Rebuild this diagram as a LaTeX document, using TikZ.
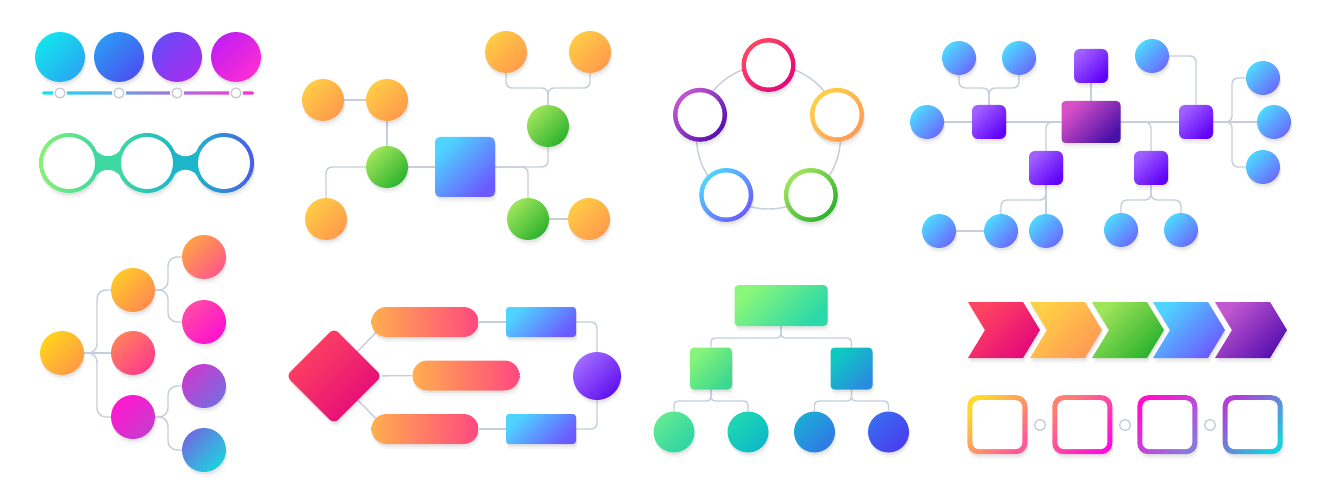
\documentclass[tikz,border=0pt]{standalone}
\usetikzlibrary{shapes.geometric,shadows,backgrounds,calc}
\definecolor{tlA}{HTML}{12E4EE}\definecolor{tlB}{HTML}{2AA8F2}
\definecolor{tlC}{HTML}{2C98F4}\definecolor{tlD}{HTML}{4A52F2}
\definecolor{tlE}{HTML}{6C48F6}\definecolor{tlF}{HTML}{A52EF0}
\definecolor{tlG}{HTML}{C21EF2}\definecolor{tlH}{HTML}{FF2CD4}
\definecolor{barmid}{HTML}{5A52F4}
\definecolor{ringA}{HTML}{86F272}\definecolor{ringB}{HTML}{3ED8A2}
\definecolor{ringC}{HTML}{1CB6C8}\definecolor{ringD}{HTML}{4A5AF0}
\definecolor{orgA}{HTML}{FFCB45}\definecolor{orgB}{HTML}{FF9B4C}
\definecolor{grnA}{HTML}{9FE55A}\definecolor{grnB}{HTML}{2CB22E}
\definecolor{bluA}{HTML}{4ED4FF}\definecolor{bluB}{HTML}{6B5BFF}
\definecolor{redA}{HTML}{FF4560}\definecolor{redB}{HTML}{E4087A}
\definecolor{yelA}{HTML}{FFD045}\definecolor{yelB}{HTML}{FF9A55}
\definecolor{purA}{HTML}{C258D0}\definecolor{purB}{HTML}{5810B0}
\definecolor{cyA}{HTML}{4FD8FF}\definecolor{cyB}{HTML}{6A6AFF}
\definecolor{viA}{HTML}{A060FF}\definecolor{viB}{HTML}{6000F8}
\definecolor{magA}{HTML}{D850C8}\definecolor{magB}{HTML}{4A10A8}
\definecolor{tzA}{HTML}{FFD21E}\definecolor{tzB}{HTML}{FF9A42}
\definecolor{toA}{HTML}{FFC82A}\definecolor{toB}{HTML}{FF8A50}
\definecolor{ttA}{HTML}{FF7E5E}\definecolor{ttB}{HTML}{FF3A8C}
\definecolor{thA}{HTML}{FF18D0}\definecolor{thB}{HTML}{C83ACD}
\definecolor{lfA}{HTML}{FFA048}\definecolor{lfB}{HTML}{FF5A88}
\definecolor{lgA}{HTML}{FF4AA8}\definecolor{lgB}{HTML}{FF10D0}
\definecolor{lhA}{HTML}{C83CCF}\definecolor{lhB}{HTML}{7A6AE0}
\definecolor{liA}{HTML}{6A70E0}\definecolor{liB}{HTML}{1ED0E0}
\definecolor{pillA}{HTML}{FFAE4E}\definecolor{pillB}{HTML}{FF4880}
\definecolor{vioA}{HTML}{A06AFF}\definecolor{vioB}{HTML}{6010F0}
\definecolor{ozA}{HTML}{8AF77A}\definecolor{ozB}{HTML}{2AD8AA}
\definecolor{ooA}{HTML}{86F47A}\definecolor{ooB}{HTML}{3CD890}
\definecolor{otA}{HTML}{0CCAC0}\definecolor{otB}{HTML}{2A8CE0}
\definecolor{kaA}{HTML}{62EA92}\definecolor{kaB}{HTML}{2ED4A6}
\definecolor{kbA}{HTML}{1ED8B0}\definecolor{kbB}{HTML}{0DB8C8}
\definecolor{kcA}{HTML}{1EAAD8}\definecolor{kcB}{HTML}{3078E4}
\definecolor{kdA}{HTML}{3A6CF0}\definecolor{kdB}{HTML}{4A3CF0}
\definecolor{sqaA}{HTML}{FFD82A}\definecolor{sqaB}{HTML}{FF5A98}
\definecolor{sqbA}{HTML}{FF8070}\definecolor{sqbB}{HTML}{FF10D8}
\definecolor{sqcA}{HTML}{FF10D0}\definecolor{sqcB}{HTML}{8A78DE}
\definecolor{sqdA}{HTML}{B040D8}\definecolor{sqdB}{HTML}{18D0E0}
\definecolor{linec}{HTML}{C6CEDC}
\definecolor{dotc}{HTML}{C5CBD6}
\tikzset{
  conn/.style={draw=linec, line width=1.4pt, rounded corners=6pt},
  g/.style 2 args={top color=#1, bottom color=#2, shading angle=45},
  sh/.style={drop shadow={opacity=0.04, fill=black, shadow xshift=1.5pt, shadow yshift=-5pt},
             drop shadow={opacity=0.06, fill=black, shadow xshift=0.8pt, shadow yshift=-2.5pt}},
  ball/.style={circle, inner sep=0pt, minimum size=#1, sh},
  boxnode/.style 2 args={rectangle, inner sep=0pt, minimum width=#1, minimum height=#2, rounded corners=4pt, sh},
  holenode/.style={circle, inner sep=0pt, minimum size=#1, fill=white},
  ticknode/.style={circle, inner sep=0pt, minimum size=10pt, draw=dotc, line width=1.3pt, fill=white, preaction={draw=white, line width=4pt}},
}
\begin{document}
\begin{tikzpicture}[x=1pt,y=-1pt]
\useasboundingbox (0,0) rectangle (1334,500);
\begin{pgfonlayer}{background}
\fill[white] (0,0) rectangle (1334,500);
\end{pgfonlayer}

% ---------- 1: circles with timeline bar ----------
\shade[left color=tlA, middle color=barmid, right color=tlH, rounded corners=1.5pt] (42,91.4) rectangle (254,94.6);
\node[ball=50pt, g={tlA}{tlB}] (a1) at (60,57) {};
\node[ball=50pt, g={tlC}{tlD}] (a2) at (119,57) {};
\node[ball=50pt, g={tlE}{tlF}] (a3) at (177,57) {};
\node[ball=50pt, g={tlG}{tlH}] (a4) at (236,57) {};
\node[ticknode] (t1) at (60,93) {};
\node[ticknode] (t2) at (119,93) {};
\node[ticknode] (t3) at (177,93) {};
\node[ticknode] (t4) at (236,93) {};

% ---------- 1b: chained rings ----------
\shade[sh, left color=ringA, right color=ringB] (69,163) circle (30);
\shade[sh, left color=ringB, right color=ringC] (147,163) circle (30);
\shade[sh, left color=ringC, right color=ringD] (224,163) circle (30);
\fill[ringB] (93,148) .. controls (103,159) and (113,159) .. (123,148) -- (123,178) .. controls (113,167) and (103,167) .. (93,178) -- cycle;
\fill[ringC] (171,148.5) .. controls (181,159) and (190,159) .. (200,148.5) -- (200,177.5) .. controls (190,167) and (181,167) .. (171,177.5) -- cycle;
\fill[white] (69,163) circle (26);
\fill[white] (147,163) circle (26);
\fill[white] (224,163) circle (26);

% ---------- 2: mind map ----------
\node[ball=42pt, g={orgA}{orgB}] (m1) at (323,100) {};
\node[ball=42pt, g={orgA}{orgB}] (m2) at (387,100) {};
\node[ball=42pt, g={grnA}{grnB}] (m3) at (387,167) {};
\node[boxnode={60pt}{60pt}, g={bluA}{bluB}, rounded corners=5pt] (m4) at (465,167) {};
\node[ball=42pt, g={orgA}{orgB}] (m5) at (326,219) {};
\node[ball=42pt, g={orgA}{orgB}] (m6) at (506,52) {};
\node[ball=42pt, g={orgA}{orgB}] (m7) at (590,52) {};
\node[ball=42pt, g={grnA}{grnB}] (m8) at (548,126) {};
\node[ball=42pt, g={grnA}{grnB}] (m9) at (528,219) {};
\node[ball=42pt, g={orgA}{orgB}] (m10) at (589,219) {};
\begin{pgfonlayer}{background}
\draw[conn] (m1) -- (m2);
\draw[conn] (m2) -- (m3);
\draw[conn] (m3) -- (m4);
\draw[conn] (m3.west) -| (m5.north);
\draw[conn] (m6.south) |- (548,88) -- (m8.north);
\draw[conn] (m7.south) |- (548,88) -- (m8.north);
\draw[conn] (m4.east) -| (m8.south);
\draw[conn] (m4.east) -| (m9.north);
\draw[conn] (m9) -- (m10);
\end{pgfonlayer}

% ---------- 3: pentagon of rings ----------
\begin{pgfonlayer}{background}
\draw[conn] (768.5,137) circle (72);
\end{pgfonlayer}
\node[ball=54pt, g={redA}{redB}] (p1) at (768.5,65) {};
\node[holenode=45pt] (p1h) at (p1) {};
\node[ball=54pt, g={yelA}{yelB}] (p2) at (837,114.8) {};
\node[holenode=45pt] (p2h) at (p2) {};
\node[ball=54pt, g={grnA}{grnB}] (p3) at (810.8,195) {};
\node[holenode=45pt] (p3h) at (p3) {};
\node[ball=54pt, g={bluA}{bluB}] (p4) at (726.2,195) {};
\node[holenode=45pt] (p4h) at (p4) {};
\node[ball=54pt, g={purA}{purB}] (p5) at (700,114.8) {};
\node[holenode=45pt] (p5h) at (p5) {};

% ---------- 4: top-right mind map ----------
\node[ball=34pt, g={cyA}{cyB}] (n1) at (959,58) {};
\node[ball=34pt, g={cyA}{cyB}] (n2) at (1019,58) {};
\node[ball=34pt, g={cyA}{cyB}] (n3) at (927,122) {};
\node[boxnode={34pt}{34pt}, g={viA}{viB}, rounded corners=6pt] (s1) at (989,122) {};
\node[boxnode={34pt}{34pt}, g={viA}{viB}, rounded corners=6pt] (s2) at (1091,66) {};
\node[boxnode={59pt}{42pt}, g={magA}{magB}] (s0) at (1091,122) {};
\node[boxnode={34pt}{34pt}, g={viA}{viB}, rounded corners=6pt] (s3) at (1196,122) {};
\node[ball=34pt, g={cyA}{cyB}] (n4) at (1152,56) {};
\node[boxnode={34pt}{34pt}, g={viA}{viB}, rounded corners=6pt] (s4) at (1046,168) {};
\node[boxnode={34pt}{34pt}, g={viA}{viB}, rounded corners=6pt] (s5) at (1151,168) {};
\node[ball=34pt, g={cyA}{cyB}] (n5) at (1263,78) {};
\node[ball=34pt, g={cyA}{cyB}] (n6) at (1274,122) {};
\node[ball=34pt, g={cyA}{cyB}] (n7) at (1263,167) {};
\node[ball=34pt, g={cyA}{cyB}] (n8) at (939,231) {};
\node[ball=34pt, g={cyA}{cyB}] (n9) at (1001,231) {};
\node[ball=34pt, g={cyA}{cyB}] (n10) at (1046,231) {};
\node[ball=34pt, g={cyA}{cyB}] (n11) at (1121,230) {};
\node[ball=34pt, g={cyA}{cyB}] (n12) at (1181,230) {};
\begin{pgfonlayer}{background}
\draw[conn] (n1.south) |- (989,88) -- (s1.north);
\draw[conn] (n2.south) |- (989,88) -- (s1.north);
\draw[conn] (n3) -- (s1);
\draw[conn] (s1) -- (s0);
\draw[conn] (s2) -- (s0);
\draw[conn] (s0) -- (s3);
\draw[conn] (n4.east) -| (s3.north);
\draw[conn] (s0.west) -| (s4.north);
\draw[conn] (s0.east) -| (s5.north);
\draw[conn] (s3) -- (n6);
\draw[conn] (n5.west) -| (1232,122) -- (s3.east);
\draw[conn] (n7.west) -| (1232,122) -- (s3.east);
\draw[conn] (n8) -- (n9);
\draw[conn] (s4) -- (n10);
\draw[conn] (n9.north) |- (1046,200) -- (s4.south);
\draw[conn] (n11.north) |- (1151,200) -- (s5.south);
\draw[conn] (n12.north) |- (1151,200) -- (s5.south);
\end{pgfonlayer}

% ---------- 5: tree ----------
\node[ball=44pt, g={tzA}{tzB}] (r0) at (62,353) {};
\node[ball=44pt, g={toA}{toB}] (r1) at (133,290) {};
\node[ball=44pt, g={ttA}{ttB}] (r2) at (133,353) {};
\node[ball=44pt, g={thA}{thB}] (r3) at (133,417) {};
\node[ball=44pt, g={lfA}{lfB}] (r4) at (204,257) {};
\node[ball=44pt, g={lgA}{lgB}] (r5) at (204,322) {};
\node[ball=44pt, g={lhA}{lhB}] (r6) at (204,386) {};
\node[ball=44pt, g={liA}{liB}] (r7) at (204,450) {};
\begin{pgfonlayer}{background}
\draw[conn, rounded corners=9pt] (r0.east) -- (97,353) |- (r1.west);
\draw[conn] (r0) -- (r2);
\draw[conn, rounded corners=9pt] (r0.east) -- (97,353) |- (r3.west);
\draw[conn, rounded corners=9pt] (r1.east) -- (168,290) |- (r4.west);
\draw[conn, rounded corners=9pt] (r1.east) -- (168,290) |- (r5.west);
\draw[conn, rounded corners=9pt] (r3.east) -- (168,417) |- (r6.west);
\draw[conn, rounded corners=9pt] (r3.east) -- (168,417) |- (r7.west);
\end{pgfonlayer}

% ---------- 6: diamond flow ----------
\node[diamond, inner sep=0pt, minimum width=96pt, minimum height=96pt, rounded corners=6pt, g={redA}{redB}, sh] (dm) at (334,376) {};
\node[boxnode={107pt}{30pt}, rounded corners=15pt, left color=pillA, right color=pillB] (f1) at (425,322) {};
\node[boxnode={107pt}{30pt}, rounded corners=15pt, left color=pillA, right color=pillB] (f2) at (466,375.5) {};
\node[boxnode={107pt}{30pt}, rounded corners=15pt, left color=pillA, right color=pillB] (f3) at (425,429) {};
\node[boxnode={70pt}{30pt}, rounded corners=3pt, g={bluA}{bluB}] (b1) at (541,322) {};
\node[boxnode={70pt}{30pt}, rounded corners=3pt, g={bluA}{bluB}] (b2) at (541,429) {};
\node[ball=48pt, g={vioA}{vioB}] (vc) at (597,376) {};
\begin{pgfonlayer}{background}
\draw[conn] (dm.center) -- ($(f1.west)+(4.5,10.6)$);
\draw[conn] (dm) -- (f2);
\draw[conn] (dm.center) -- ($(f3.west)+(4.5,-10.6)$);
\draw[conn] (f1) -- (b1);
\draw[conn] (f3) -- (b2);
\draw[conn] (b1.east) -| (vc.north);
\draw[conn] (b2.east) -| (vc.south);
\end{pgfonlayer}

% ---------- 7: org chart ----------
\node[boxnode={93pt}{41pt}, g={ozA}{ozB}] (o0) at (781,305.5) {};
\node[boxnode={42pt}{42pt}, g={ooA}{ooB}] (o1) at (711,368.5) {};
\node[boxnode={42pt}{42pt}, g={otA}{otB}] (o2) at (851.5,368.5) {};
\node[ball=41pt, g={kaA}{kaB}] (k1) at (674,432) {};
\node[ball=41pt, g={kbA}{kbB}] (k2) at (748,432) {};
\node[ball=41pt, g={kcA}{kcB}] (k3) at (814.5,432) {};
\node[ball=41pt, g={kdA}{kdB}] (k4) at (888.5,432) {};
\begin{pgfonlayer}{background}
\draw[conn, rounded corners=4pt] (o0.south) -- (781,338) -| (o1.north);
\draw[conn, rounded corners=4pt] (o0.south) -- (781,338) -| (o2.north);
\draw[conn, rounded corners=4pt] (o1.south) -- (711,401) -| (k1.north);
\draw[conn, rounded corners=4pt] (o1.south) -- (711,401) -| (k2.north);
\draw[conn, rounded corners=4pt] (o2.south) -- (851.5,401) -| (k3.north);
\draw[conn, rounded corners=4pt] (o2.south) -- (851.5,401) -| (k4.north);
\end{pgfonlayer}

% ---------- 8: chevrons ----------
\foreach \L/\ca/\cb in {968/redA/redB, 1030/yelA/yelB, 1092/grnA/grnB, 1153/bluA/bluB, 1215/purA/purB}
  \shade[sh, top color=\ca, bottom color=\cb, shading angle=45] (\L,302) -- ++(55,0) -- ++(17,28) -- ++(-17,28) -- ++(-55,0) -- ++(17,-28) -- cycle;

% ---------- 8b: square rings ----------
\node[boxnode={60pt}{59pt}, g={sqaA}{sqaB}, rounded corners=11pt] (q1) at (997.3,424.7) {};
\node[rectangle, inner sep=0pt, fill=white, minimum width=50pt, minimum height=49pt, rounded corners=7pt] (q1h) at (q1) {};
\node[boxnode={60pt}{59pt}, g={sqbA}{sqbB}, rounded corners=11pt] (q2) at (1082.3,424.7) {};
\node[rectangle, inner sep=0pt, fill=white, minimum width=50pt, minimum height=49pt, rounded corners=7pt] (q2h) at (q2) {};
\node[boxnode={60pt}{59pt}, g={sqcA}{sqcB}, rounded corners=11pt] (q3) at (1167.3,424.7) {};
\node[rectangle, inner sep=0pt, fill=white, minimum width=50pt, minimum height=49pt, rounded corners=7pt] (q3h) at (q3) {};
\node[boxnode={60pt}{59pt}, g={sqdA}{sqdB}, rounded corners=11pt] (q4) at (1252.7,424.7) {};
\node[rectangle, inner sep=0pt, fill=white, minimum width=50pt, minimum height=49pt, rounded corners=7pt] (q4h) at (q4) {};
\node[ticknode, minimum size=11pt] (e1) at (1040,425) {};
\node[ticknode, minimum size=11pt] (e2) at (1125,425) {};
\node[ticknode, minimum size=11pt] (e3) at (1210,425) {};
\end{tikzpicture}
\end{document}
